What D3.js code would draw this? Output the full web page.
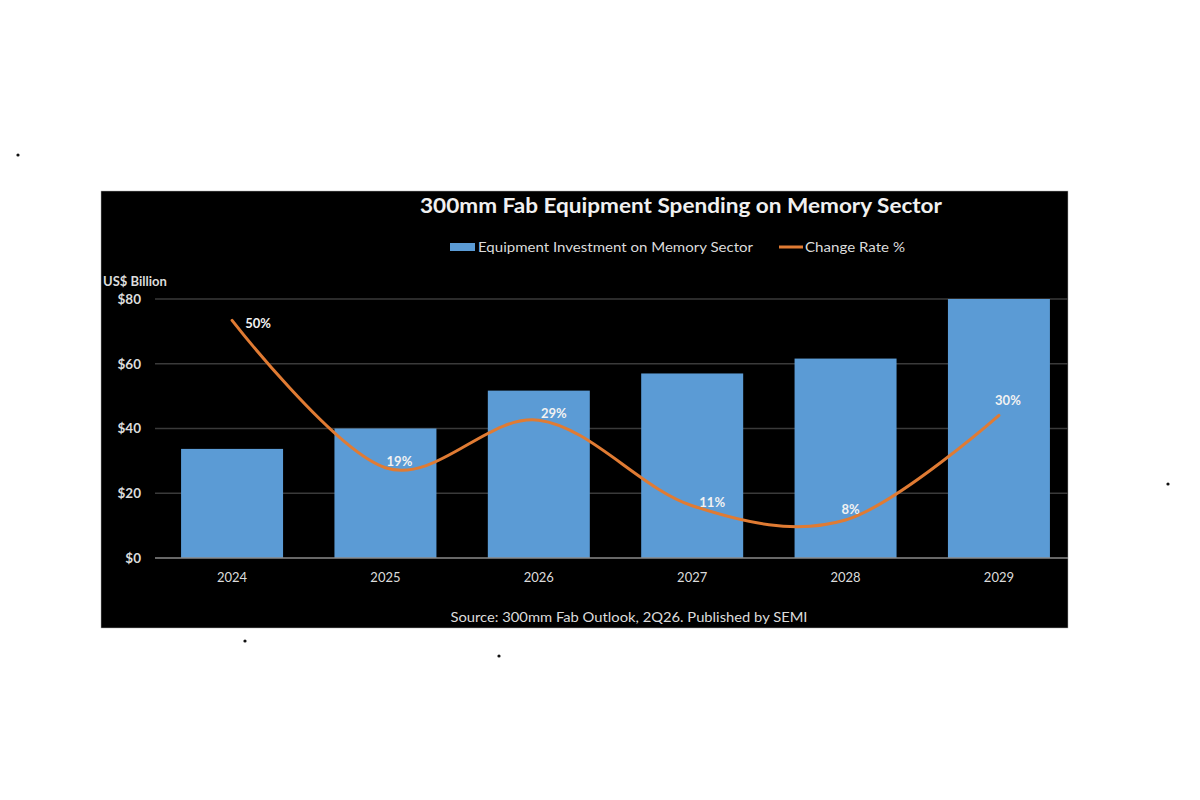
<!DOCTYPE html>
<html>
<head>
<meta charset="utf-8">
<script src="https://cdn.jsdelivr.net/npm/d3@7/dist/d3.min.js"></script>
<style>
  html, body { margin: 0; padding: 0; background: #ffffff; }
  svg { display: block; }
  text { font-family: Lato, "Open Sans", "Liberation Sans", sans-serif; }
</style>
</head>
<body>
<svg id="chart" width="1200" height="800"></svg>
<script>
// ---- data ----
const years = ["2024", "2025", "2026", "2027", "2028", "2029"];
const investment = [33.7, 40, 51.7, 57, 61.6, 80];          // US$ Billion
const changeRate = [50, 19, 29, 11, 8, 30];                 // %
const changeLabels = ["50%", "19%", "29%", "11%", "8%", "30%"];
const yTicks = [0, 20, 40, 60, 80];
const yTickLabels = ["$0", "$20", "$40", "$60", "$80"];
const titleText = "300mm Fab Equipment Spending on Memory Sector";
const legendBarText = "Equipment Investment on Memory Sector";
const legendLineText = "Change Rate %";
const unitText = "US$ Billion";
const sourceText = "Source: 300mm Fab Outlook, 2Q26. Published by SEMI";

// ---- layout (not data) ----
const labelOffsets = [[26, 4], [14, -5], [15, -6], [20, -2], [5, -9], [9, -14]];
const panel = { x: 101, y: 191, w: 967, h: 437 };
const plot = { left: 155, right: 1076, top: 299, bottom: 558 };
const colors = { bar: "#5B9BD5", line: "#E07B33", grid: "#3a3a3a", axis: "#8a8a8a", text: "#dcdcdc" };

const svg = d3.select("#chart");

// stray dots on the page
[[18, 155], [1168, 484], [245, 641], [499, 656]].forEach(([cx, cy]) =>
  svg.append("circle").attr("cx", cx).attr("cy", cy).attr("r", 1.6).attr("fill", "#111"));

// black panel
svg.append("rect").attr("x", panel.x).attr("y", panel.y).attr("width", panel.w).attr("height", panel.h)
  .attr("fill", "#000").attr("stroke", "#b0b0b0").attr("stroke-width", 0.5);

const x = d3.scaleBand().domain(years).range([plot.left, plot.right]).paddingInner(0.335).paddingOuter(0.17);
const y = d3.scaleLinear().domain([0, 80]).range([plot.bottom, plot.top]);
const y2 = d3.scaleLinear().domain([0, 54.5]).range([plot.bottom, plot.top]);

// gridlines
const gridRight = panel.x + panel.w;
svg.append("g").selectAll("line").data(yTicks.filter(d => d > 0)).join("line")
  .attr("x1", plot.left).attr("x2", gridRight)
  .attr("y1", d => y(d)).attr("y2", d => y(d))
  .attr("stroke", colors.grid).attr("stroke-width", 1.3);

// y axis (labels only)
const yAxis = d3.axisLeft(y).tickValues(yTicks).tickFormat((d, i) => yTickLabels[i]).tickSize(0).tickPadding(14);
const gy = svg.append("g").attr("transform", `translate(${plot.left},0)`).call(yAxis);
gy.select(".domain").remove();
gy.selectAll("text").attr("fill", colors.text).attr("font-size", 13.5).attr("font-weight", "bold");

// bars
svg.append("g").selectAll("rect").data(investment).join("rect")
  .attr("x", (d, i) => x(years[i])).attr("width", x.bandwidth())
  .attr("y", d => y(d)).attr("height", d => y(0) - y(d))
  .attr("fill", colors.bar);

// baseline
svg.append("line").attr("x1", plot.left).attr("x2", gridRight)
  .attr("y1", y(0)).attr("y2", y(0)).attr("stroke", colors.axis).attr("stroke-width", 1.5);

// x axis labels
const xAxis = d3.axisBottom(x).tickSize(0).tickPadding(15);
const gx = svg.append("g").attr("transform", `translate(0,${plot.bottom})`).call(xAxis);
gx.select(".domain").remove();
gx.selectAll("text").attr("fill", colors.text).attr("font-size", 13).attr("font-weight", "normal");

// change rate line
const line = d3.line()
  .x((d, i) => x(years[i]) + x.bandwidth() / 2)
  .y(d => y2(d))
  .curve(d3.curveCatmullRom.alpha(0));
svg.append("path").datum(changeRate).attr("d", line)
  .attr("fill", "none").attr("stroke", colors.line).attr("stroke-width", 3).attr("stroke-linecap", "round");

// line labels
svg.append("g").selectAll("text").data(changeRate).join("text")
  .attr("x", (d, i) => x(years[i]) + x.bandwidth() / 2 + labelOffsets[i][0])
  .attr("y", (d, i) => y2(d) + labelOffsets[i][1])
  .attr("text-anchor", "middle").attr("dominant-baseline", "middle")
  .attr("fill", "#f2f2f2").attr("font-size", 13).attr("font-weight", "bold")
  .text((d, i) => changeLabels[i]);

// title
svg.append("text").attr("x", 681).attr("y", 213).attr("text-anchor", "middle")
  .attr("fill", "#f0f0f0").attr("font-size", 20).attr("font-weight", "bold")
  .attr("textLength", 522).attr("lengthAdjust", "spacingAndGlyphs")
  .text(titleText);

// legend
svg.append("rect").attr("x", 450).attr("y", 243).attr("width", 25).attr("height", 8).attr("fill", colors.bar);
svg.append("text").attr("x", 478).attr("y", 252).attr("fill", colors.text).attr("font-size", 13.5)
  .attr("textLength", 275).attr("lengthAdjust", "spacingAndGlyphs").text(legendBarText);
svg.append("line").attr("x1", 779).attr("x2", 803).attr("y1", 247).attr("y2", 247)
  .attr("stroke", colors.line).attr("stroke-width", 3);
svg.append("text").attr("x", 805).attr("y", 252).attr("fill", colors.text).attr("font-size", 13.5)
  .attr("textLength", 100).attr("lengthAdjust", "spacingAndGlyphs").text(legendLineText);

// unit label
svg.append("text").attr("x", 103).attr("y", 286).attr("fill", colors.text).attr("font-size", 13)
  .attr("font-weight", "bold").text(unitText);

// source
svg.append("text").attr("x", 629).attr("y", 622).attr("text-anchor", "middle")
  .attr("fill", colors.text).attr("font-size", 13.5)
  .attr("textLength", 357).attr("lengthAdjust", "spacingAndGlyphs").text(sourceText);
</script>
</body>
</html>
